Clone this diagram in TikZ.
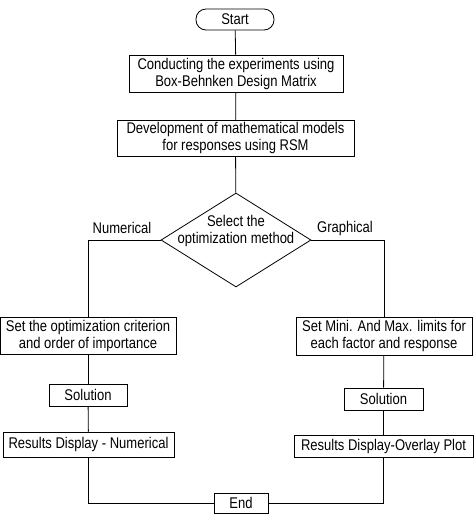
\documentclass[tikz,border=0pt]{standalone}
\usepackage{fontspec}
\setmainfont{Liberation Sans}[FakeStretch=0.84]
\usetikzlibrary{shapes.geometric, positioning, calc}

\begin{document}
\begin{tikzpicture}[x=1pt, y=-1pt,
  flowbox/.style={draw, line width=0.8pt, align=center, inner sep=0pt,
    font=\fontsize{15.5}{17}\selectfont},
  terminal/.style={flowbox, rounded corners=10pt},
  decision/.style={draw, line width=0.8pt, diamond, inner sep=0pt},
  caption/.style={align=center, inner sep=0pt, font=\fontsize{15.5}{17}\selectfont},
  link/.style={line width=0.8pt}]
\useasboundingbox (0,0) rectangle (474,515);

% main column
\node[terminal, minimum width=78pt, minimum height=21pt] (start) at (235,19.5) {Start};
\node[flowbox, minimum width=214pt, minimum height=37pt] (expt) at (236,73.5)
  {Conducting the experiments using\\Box-Behnken Design Matrix};
\node[flowbox, minimum width=237pt, minimum height=36pt] (model) at (235.5,138)
  {Development of mathematical models\\for responses using RSM};
\node[decision, minimum width=150pt, minimum height=94pt] (select) at (236,240) {};
\node[caption] (selecttext) at (236,231) {Select the\\optimization method};
\node[caption] (numlabel) at (122,228) {Numerical};
\node[caption] (graphlabel) at (345,228) {Graphical};

% numerical branch
\node[flowbox, minimum width=176pt, minimum height=37pt] (numcrit) at (88,335.5)
  {Set the optimization criterion\\and order of importance};
\node[flowbox, minimum width=78pt, minimum height=22pt] (numsol) at (88,395) {Solution};
\node[flowbox, minimum width=171pt, minimum height=25pt] (numres) at (88.5,444.5)
  {Results Display - Numerical};

% graphical branch
\node[flowbox, minimum width=176pt, minimum height=38pt] (graphlim) at (384,336)
  {Set Mini. And Max. limits for\\each factor and response};
\node[flowbox, minimum width=79pt, minimum height=22pt] (graphsol) at (383.5,399) {Solution};
\node[flowbox, minimum width=179pt, minimum height=22pt] (graphres) at (383.5,446)
  {Results Display-Overlay Plot};

\node[flowbox, minimum width=54pt, minimum height=20pt] (end) at (241,503) {End};

% connectors
\draw[link] (start) -- (expt);
\draw[link] (expt) -- (model);
\draw[link] (model) -- (select);
\draw[link] (select.west) -| (numcrit);
\draw[link] (select.east) -| (graphlim);
\draw[link] (numcrit) -- (numsol);
\draw[link] (numsol) -- (numres);
\draw[link] (graphlim) -- (graphsol);
\draw[link] (graphsol) -- (graphres);
\draw[link] (numres) |- (end);
\draw[link] (graphres) |- (end);
\end{tikzpicture}
\end{document}
